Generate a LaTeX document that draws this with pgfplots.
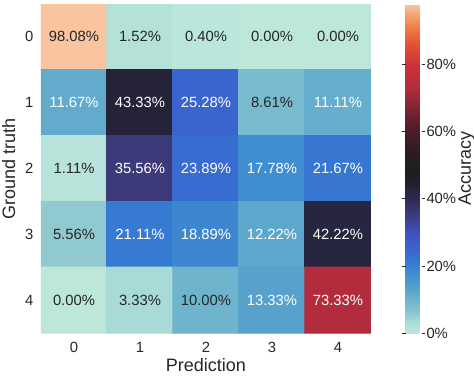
\documentclass[border=0pt]{standalone}
\usepackage{fontspec}
\setmainfont{Liberation Sans}
\usepackage{pgfplots}
\pgfplotsset{compat=1.18}
\definecolor{txt}{HTML}{262626}
\pgfplotsset{colormap={icefire}{
rgb255(0pt)=(189,231,219)
rgb255(3pt)=(172,221,216)
rgb255(6pt)=(140,198,208)
rgb255(10pt)=(110,180,205)
rgb255(13pt)=(88,163,204)
rgb255(17pt)=(66,146,208)
rgb255(21pt)=(55,122,210)
rgb255(25pt)=(58,102,207)
rgb255(30pt)=(65,80,190)
rgb255(35pt)=(62,60,128)
rgb255(40pt)=(45,43,80)
rgb255(45pt)=(32,31,43)
rgb255(49pt)=(30,29,32)
rgb255(55pt)=(48,28,34)
rgb255(62pt)=(85,30,42)
rgb255(68pt)=(135,38,55)
rgb255(73pt)=(178,44,62)
rgb255(80pt)=(205,50,58)
rgb255(86pt)=(228,80,52)
rgb255(91pt)=(240,125,70)
rgb255(95pt)=(246,165,115)
rgb255(98pt)=(249,196,160)
}}
\newcommand{\tfont}{\fontsize{14.8bp}{17bp}\selectfont}
\newcommand{\lfont}{\fontsize{18bp}{21bp}\selectfont}
\begin{document}
\begin{tikzpicture}
\useasboundingbox (-41bp,-43bp) rectangle (433bp,333bp);
\begin{axis}[
  at={(0,0)}, anchor=south west,
  scale only axis, width=330bp, height=329bp,
  xmin=-0.5, xmax=4.5, ymin=-0.5, ymax=4.5,
  y dir=reverse, enlargelimits=false,
  xtick={0,...,4}, ytick={0,...,4},
  major tick length=0pt, tick style={draw=none},
  axis line style={draw=none},
  /pgf/number format/assume math mode=true,
  ticklabel style={font=\tfont, text=txt},
  xticklabel style={yshift=-6bp},
  yticklabel style={xshift=-4bp},
  xlabel={Prediction}, ylabel={Ground truth},
  label style={font=\lfont, text=txt},
  xlabel style={yshift=1bp},
  ylabel style={yshift=3bp},
  colormap name=icefire,
  point meta min=0, point meta max=98.08,
  colorbar,
  colorbar style={
    at={(parent axis.north east)}, anchor=north west, xshift=26bp,
    width=16bp,
    ytick={0,20,40,60,80},
    yticklabel={\pgfmathprintnumber{\tick}\%},
    /pgf/number format/assume math mode=true,
    axis line style={draw=none},
    tick align=outside, major tick length=3.5bp,
    tick style={draw=txt, line width=0.8bp},
    yticklabel style={font=\tfont, text=txt, xshift=-2bp},
    ylabel={Accuracy},
    every axis y label/.style={at={(axis description cs:1,0.5)}, xshift=45bp, anchor=center, rotate=90, font=\lfont, text=txt},
  },
]
\addplot[matrix plot, mesh/cols=5, point meta=explicit, faceted color=white, line width=1.2bp]
table[meta=c]{
x y c
0 0 98.08
1 0 1.52
2 0 0.40
3 0 0.00
4 0 0.00
0 1 11.67
1 1 43.33
2 1 25.28
3 1 8.61
4 1 11.11
0 2 1.11
1 2 35.56
2 2 23.89
3 2 17.78
4 2 21.67
0 3 5.56
1 3 21.11
2 3 18.89
3 3 12.22
4 3 42.22
0 4 0.00
1 4 3.33
2 4 10.00
3 4 13.33
4 4 73.33
};
\addplot[draw=none, mark=none, nodes near coords, point meta=explicit symbolic,
  every node near coord/.append style={anchor=center, text=txt, font=\tfont}]
coordinates {
(0,0)[98.08\%] (1,0)[1.52\%] (2,0)[0.40\%] (3,0)[0.00\%] (4,0)[0.00\%]
(3,1)[8.61\%] (0,2)[1.11\%] (0,3)[5.56\%] (0,4)[0.00\%] (1,4)[3.33\%] (2,4)[10.00\%]
};
\addplot[draw=none, mark=none, nodes near coords, point meta=explicit symbolic,
  every node near coord/.append style={anchor=center, text=white, font=\tfont}]
coordinates {
(0,1)[11.67\%] (1,1)[43.33\%] (2,1)[25.28\%] (4,1)[11.11\%]
(1,2)[35.56\%] (2,2)[23.89\%] (3,2)[17.78\%] (4,2)[21.67\%]
(1,3)[21.11\%] (2,3)[18.89\%] (3,3)[12.22\%] (4,3)[42.22\%]
(3,4)[13.33\%] (4,4)[73.33\%]
};
\end{axis}
\end{tikzpicture}
\end{document}
